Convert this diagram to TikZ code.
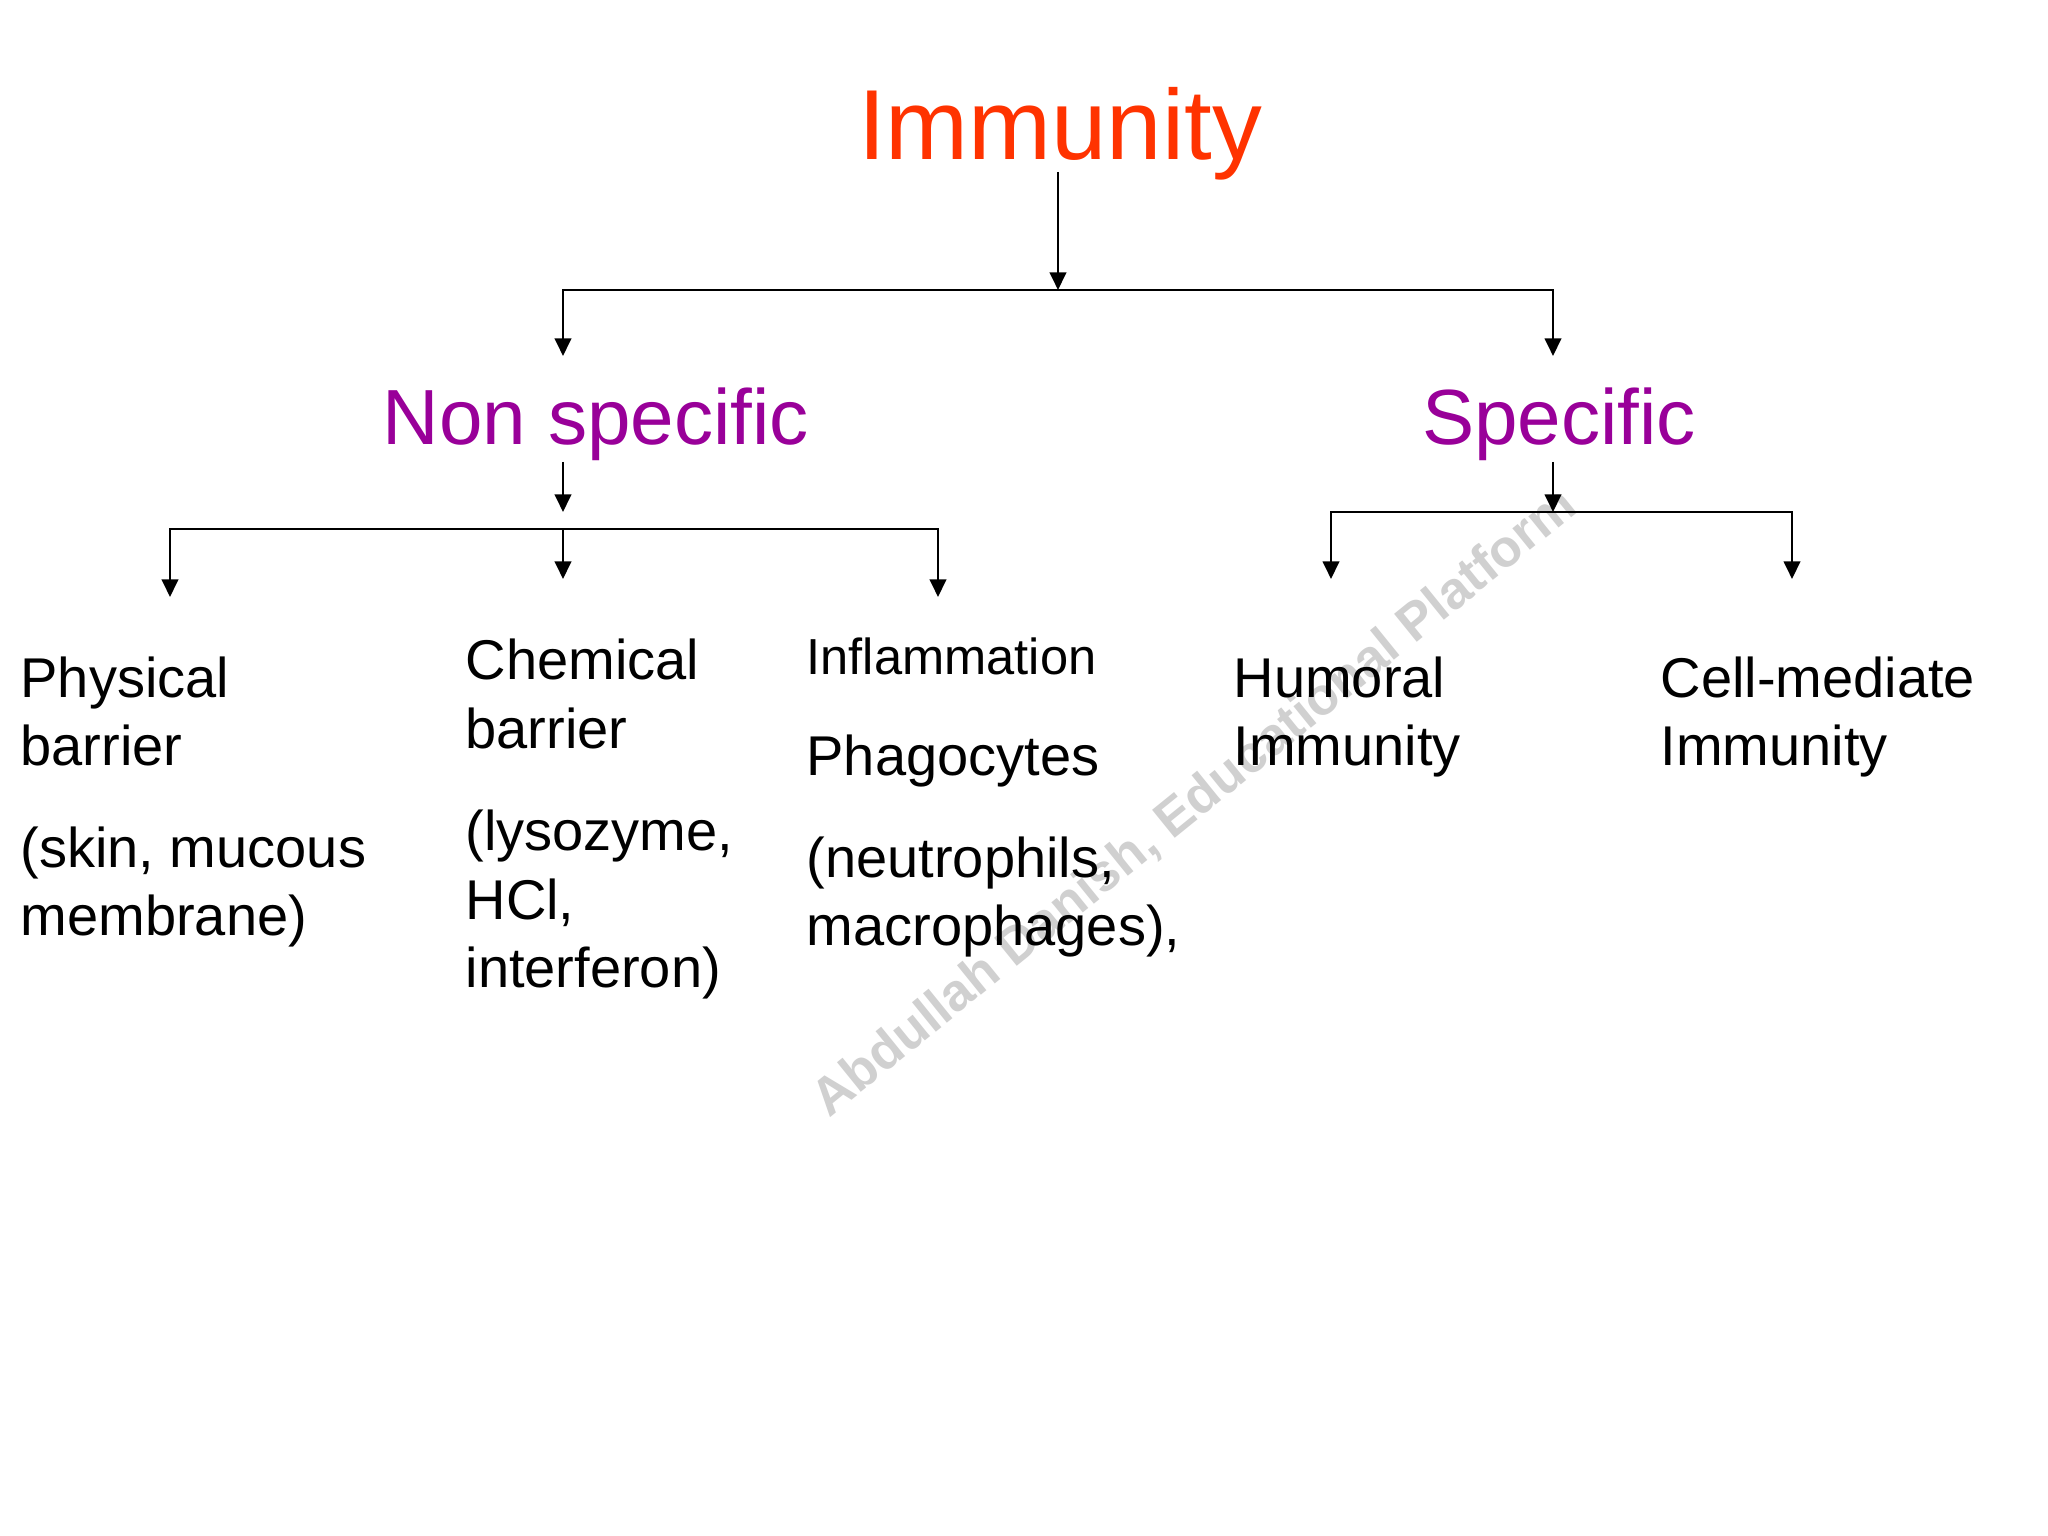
\documentclass[tikz,border=0pt]{standalone}
\usepackage{fontspec}
\setmainfont{Liberation Sans}
\usetikzlibrary{arrows.meta}
\definecolor{titlered}{RGB}{255,51,0}
\definecolor{subpurple}{RGB}{153,0,153}
\definecolor{wmgray}{RGB}{208,208,208}
\begin{document}
\begin{tikzpicture}[x=0.3515625pt,y=-0.3515625pt,
  bar/.style={line width=0.85pt,line cap=rect},
  conn/.style={line width=0.85pt,-{Triangle[length=6.2pt,width=5.8pt]}},
  lbl/.style={anchor=base west,inner sep=0pt,font=\fontsize{19.7}{24}\selectfont},
  smalllbl/.style={anchor=base west,inner sep=0pt,font=\fontsize{17.8}{21}\selectfont},
  head/.style={anchor=base,inner sep=0pt,text=subpurple,font=\fontsize{27.5}{33}\selectfont},
  titlestyle/.style={anchor=base,inner sep=0pt,text=titlered,font=\fontsize{35}{42}\selectfont},
  wmark/.style={inner sep=0pt,text=wmgray,font=\fontsize{18.4}{22}\selectfont\bfseries}]
\useasboundingbox (0,0) rectangle (2048,1536);
\fill[white] (0,0) rectangle (2048,1536);

% watermark
\node[wmark,rotate=39] (wm) at (1195,803) {Abdullah Danish, Educational Platform};

% headings
\node[titlestyle] (title) at (1060,160) {Immunity};
\node[head] (nonspec) at (596,445) {Non specific};
\node[head] (spec) at (1559,445) {Specific};

% coordinates of connectors
\coordinate (t0) at (1058,172);
\coordinate (tj) at (1058,290);
\coordinate (tl) at (563,290);
\coordinate (tr) at (1553,290);
\coordinate (nsIn) at (563,356);
\coordinate (spIn) at (1553,356);

\coordinate (n0) at (563,462);
\coordinate (n1) at (563,512);
\coordinate (nL) at (170,529);
\coordinate (nM) at (563,529);
\coordinate (nR) at (938,529);
\coordinate (pA) at (170,597);
\coordinate (pB) at (563,579);
\coordinate (pC) at (938,597);

\coordinate (s0) at (1553,462);
\coordinate (sJ) at (1553,512);
\coordinate (sL) at (1331,512);
\coordinate (sR) at (1792,512);
\coordinate (hA) at (1331,579);
\coordinate (hB) at (1792,579);

% connectors
\draw[conn] (t0) -- (tj);
\draw[bar] (tl) -- (tr);
\draw[conn] (tl) -- (nsIn);
\draw[conn] (tr) -- (spIn);

\draw[conn] (n0) -- (n1);
\draw[bar] (nL) -- (nR);
\draw[conn] (nL) -- (pA);
\draw[conn] (nM) -- (pB);
\draw[conn] (nR) -- (pC);

\draw[conn] (s0) -- (sJ);
\draw[bar] (sL) -- (sR);
\draw[conn] (sL) -- (hA);
\draw[conn] (sR) -- (hB);

% physical barrier
\node[lbl] (phys1) at (20,697) {Physical};
\node[lbl] (phys2) at (20,765) {barrier};
\node[lbl] (phys3) at (20,867) {(skin, mucous};
\node[lbl] (phys4) at (20,935) {membrane)};

% chemical barrier
\node[lbl] (chem1) at (465,680) {Chemical};
\node[lbl] (chem2) at (465,748) {barrier};
\node[lbl] (chem3) at (465,850) {(lysozyme,};
\node[lbl] (chem4) at (465,919) {HCl,};
\node[lbl] (chem5) at (465,987) {interferon)};

% inflammation
\node[smalllbl] (infl) at (806,674) {Inflammation};
\node[lbl] (phag1) at (806,775) {Phagocytes};
\node[lbl] (phag2) at (806,877) {(neutrophils,};
\node[lbl] (phag3) at (806,945) {macrophages),};

% specific branches
\node[lbl] (hum1) at (1233,697) {Humoral};
\node[lbl] (hum2) at (1233,765) {Immunity};
\node[lbl] (cell1) at (1660,697) {Cell-mediate};
\node[lbl] (cell2) at (1660,765) {Immunity};
\end{tikzpicture}
\end{document}
